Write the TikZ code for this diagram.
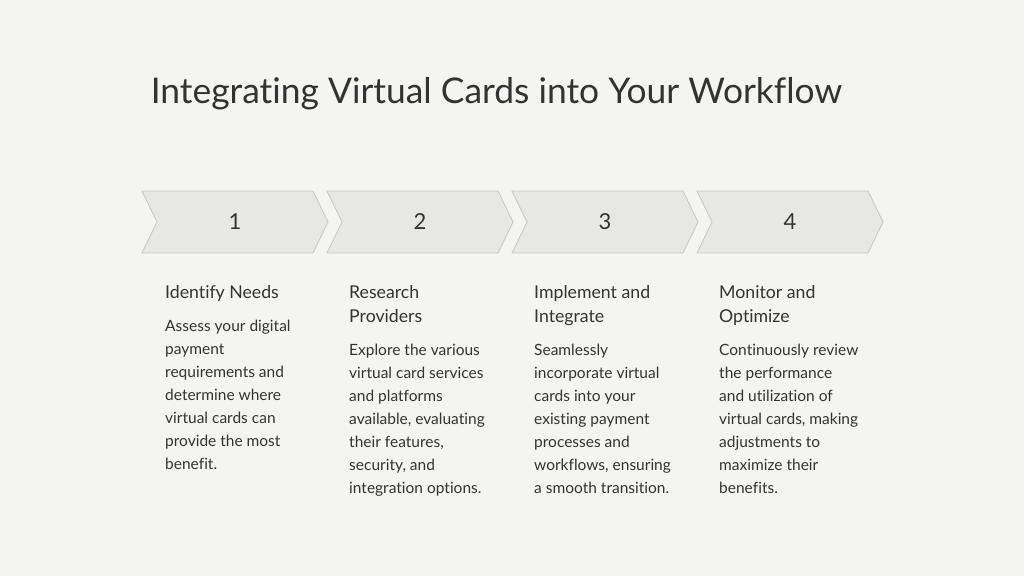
\documentclass[tikz,border=0pt]{standalone}
\usepackage{fontspec}
\setmainfont{Lato}[Ligatures=NoCommon]
\definecolor{bg}{HTML}{F4F4F2}
\definecolor{chevfill}{HTML}{E7E7E4}
\definecolor{chevline}{HTML}{C9C9C6}
\definecolor{ink}{HTML}{333333}
\newcommand\linestack[1]{\vtop{\halign{##\hfil\cr#1\crcr}}}
\begin{document}
\begin{tikzpicture}[x=1pt,y=-1pt,
  chev/.style={fill=chevfill,draw=chevline,line width=0.9pt,line join=miter},
  num/.style={text=ink,font=\fontsize{22}{26}\selectfont,inner sep=0pt},
  head/.style={text=ink,font=\fontsize{17.7}{24}\selectfont,anchor=base west,inner sep=0pt},
  body/.style={text=ink,font=\fontsize{15.5}{23}\selectfont,anchor=base west,inner sep=0pt}]
\useasboundingbox (0,0) rectangle (1024,576);
\fill[bg] (0,0) rectangle (1024,576);
\node[text=ink,font=\fontsize{35.4}{40}\selectfont,anchor=base,inner sep=0pt] (title) at (496.5,103) {Integrating Virtual Cards into Your Workflow};
\foreach \i/\x in {1/142,2/327,3/512,4/697}{
  \draw[chev] (\x,191) -- ++(171,0) -- ++(15,31) -- ++(-15,31) -- ++(-171,0) -- ++(15,-31) -- cycle;
  \node[num] (n\i) at (\x+93,222) {\i};
}
\node[head] (h1) at (165,298) {\linestack{Identify Needs}};
\node[body] (b1) at (165,331) {\linestack{Assess your digital\cr payment\cr requirements and\cr determine where\cr virtual cards can\cr provide the most\cr benefit.}};
\node[head] (h2) at (349,298) {\linestack{Research\cr Providers}};
\node[body] (b2) at (349,355) {\linestack{Explore the various\cr virtual card services\cr and platforms\cr available, evaluating\cr their features,\cr security, and\cr integration options.}};
\node[head] (h3) at (534,298) {\linestack{Implement and\cr Integrate}};
\node[body] (b3) at (534,355) {\linestack{Seamlessly\cr incorporate virtual\cr cards into your\cr existing payment\cr processes and\cr workflows, ensuring\cr a smooth transition.}};
\node[head] (h4) at (719,298) {\linestack{Monitor and\cr Optimize}};
\node[body] (b4) at (719,355) {\linestack{Continuously review\cr the performance\cr and utilization of\cr virtual cards, making\cr adjustments to\cr maximize their\cr benefits.}};
\end{tikzpicture}
\end{document}
